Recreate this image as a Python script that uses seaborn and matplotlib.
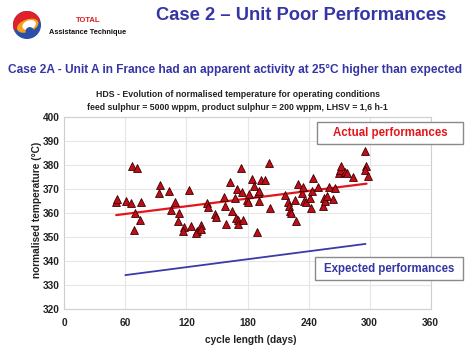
import matplotlib
matplotlib.use("Agg")
import matplotlib.pyplot as plt
import seaborn as sns
import pandas as pd
from matplotlib.patches import Wedge, Circle, Ellipse, Rectangle

# ---------------- data ----------------
cycle_days = [51, 52, 61, 66, 67, 71.5, 69, 75, 74, 68,
              94, 93, 103, 109, 105, 113, 112, 118, 116.5, 123,
              124, 130, 129, 134, 134.5, 140, 141, 148, 149, 157,
              158, 159, 162.5, 165, 168, 168.5, 170, 171, 171, 174,
              175, 176, 179.3, 181, 180.2, 184.5, 186, 189, 190, 191,
              191.5, 193, 197, 201, 202, 217, 219.5, 221, 222, 223,
              227, 228, 229.5, 234, 235, 236, 237.5, 241, 242, 243,
              244, 249, 254, 255, 256, 258, 260.5, 264, 265.5, 270,
              271, 271.5, 276, 277.5, 284, 295.5, 296.5, 295.5, 298]
norm_temp = [364.3, 365.8, 364.8, 363.9, 379.6, 378.5, 360.0, 364.4, 356.8, 352.8,
             371.5, 368.2, 368.9, 364.6, 361.3, 359.7, 356.4, 353.9, 352.4, 369.3,
             354.4, 352.4, 351.7, 354.9, 353.1, 363.9, 362.5, 359.3, 358.3, 366.7,
             362.6, 355.3, 372.9, 360.5, 366.0, 357.9, 369.9, 357.0, 355.3, 378.5,
             368.6, 357.0, 365.3, 367.8, 364.3, 374.2, 371.0, 352.1, 368.4, 369.0,
             365.0, 373.6, 373.5, 380.6, 361.8, 367.4, 364.6, 362.9, 360.8, 360.0,
             365.3, 356.5, 371.8, 368.1, 370.8, 364.9, 364.3, 366.0, 361.8, 369.0,
             374.6, 370.8, 362.9, 366.0, 364.9, 367.0, 370.5, 365.7, 370.2, 376.4,
             377.8, 379.5, 377.1, 376.4, 375.0, 385.8, 379.5, 377.8, 375.3]

actual_trend_x = [51, 297]
actual_trend_y = [359.0, 372.1]
expected_x = [60, 296]
expected_y = [334.0, 347.0]

x_ticks = [0, 60, 120, 180, 240, 300, 360]
y_ticks = [320, 330, 340, 350, 360, 370, 380, 390, 400]

points = pd.DataFrame({"cycle": cycle_days, "temp": norm_temp})
actual = pd.DataFrame({"cycle": actual_trend_x, "temp": actual_trend_y})
expected = pd.DataFrame({"cycle": expected_x, "temp": expected_y})

# ---------------- style ----------------
sns.set_theme(style="white")
plt.rcParams["font.family"] = ["Liberation Sans", "DejaVu Sans"]

W, H = 474, 355
fig = plt.figure(figsize=(W / 100, H / 100), dpi=100)
ax = fig.add_axes([64.3 / W, 1 - 308.7 / H, (430.7 - 64.3) / W, (308.7 - 116.7) / H])

grid_c = "#e6e6e6"
for v in y_ticks:
    ax.axhline(v, color=grid_c, lw=0.8, zorder=0)
for v in x_ticks:
    ax.axvline(v, color=grid_c, lw=0.8, zorder=0)

sns.lineplot(data=actual, x="cycle", y="temp", ax=ax, color="#e3161b", lw=1.6, zorder=3)
sns.lineplot(data=expected, x="cycle", y="temp", ax=ax, color="#3a3aa8", lw=1.3, zorder=3)
sns.scatterplot(data=points, x="cycle", y="temp", ax=ax, marker="^", s=32,
                color="#c00d18", edgecolor="#3a0000", linewidth=0.6, zorder=4)

ax.set_xlim(0, 360)
ax.set_ylim(320, 400)
ax.set_xticks(x_ticks)
ax.set_yticks(y_ticks)
ax.tick_params(axis="x", length=0, pad=7, labelsize=7.3, colors="#222222")
ax.tick_params(axis="y", length=0, pad=3, labelsize=7.3, colors="#222222")
for lab in ax.get_xticklabels() + ax.get_yticklabels():
    lab.set_fontweight("bold")
for sp in ax.spines.values():
    sp.set_color("#cfcfcf")
    sp.set_linewidth(0.8)

ax.set_xlabel("cycle length (days)", fontsize=7.3, fontweight="bold", color="#222222")
ax.set_ylabel("normalised temperature (°C)", fontsize=7.3, fontweight="bold", color="#222222")
ax.xaxis.set_label_coords((251 - 64.3) / 366.4, -(340 - 308.7) / 192, transform=ax.transAxes)
ax.yaxis.set_label_coords((37 - 64.3) / 366.4, (308.7 - 210) / 192, transform=ax.transAxes)
ax.xaxis.label.set_va("center")
ax.yaxis.label.set_va("center")

# ---------------- texts ----------------
def fx(px):
    return px / W

def fy(py):
    return 1 - py / H

fig.text(fx(301.5), fy(15), "Case 2 \u2013 Unit Poor Performances", ha="center", va="center",
         fontsize=13.2, fontweight="bold", color="#3535a5")
fig.text(fx(234.5), fy(70), "Case 2A - Unit A in France had an apparent activity at 25°C higher than expected",
         ha="center", va="center", fontsize=8.6, fontweight="bold", color="#3535a5")
fig.text(fx(237.5), fy(94.3), "HDS - Evolution of normalised temperature for operating conditions",
         ha="center", va="center", fontsize=6.35, fontweight="bold", color="#222222")
fig.text(fx(237.5), fy(107.7), "feed sulphur = 5000 wppm, product sulphur = 200 wppm, LHSV = 1,6 h-1",
         ha="center", va="center", fontsize=6.35, fontweight="bold", color="#222222")

# annotation boxes
for (x0, y0, x1, y1, txt, col) in [(316.7, 121.7, 463.3, 144.0, "Actual performances", "#e3161b"),
                                   (315.3, 257.3, 462.7, 280.0, "Expected performances", "#3535a5")]:
    fig.patches.append(Rectangle((fx(x0), fy(y1)), (x1 - x0) / W, (y1 - y0) / H,
                                 transform=fig.transFigure, fc="white", ec="#8a8a8a", lw=1.0, zorder=5))
    fig.text(fx((x0 + x1) / 2), fy((y0 + y1) / 2), txt, ha="center", va="center",
             fontsize=8.3, fontweight="bold", color=col, zorder=6)

# logo
fig.text(fx(88), fy(21), "TOTAL", ha="center", va="center", fontsize=5.5, fontweight="bold", color="#d42020")
fig.text(fx(88), fy(32), "Assistance Technique", ha="center", va="center", fontsize=5.3,
         fontweight="bold", color="#111111")
lax = fig.add_axes([fx(13), fy(40), 28 / W, 30 / H])
lax.set_xlim(-1, 1)
lax.set_ylim(-1.07, 1.07)
lax.set_aspect("equal")
lax.axis("off")
lax.add_patch(Circle((0, 0), 0.95, color="#2a4fa8"))
lax.add_patch(Wedge((0, 0), 0.95, 20, 200, color="#e0202a"))
lax.add_patch(Ellipse((0.05, -0.05), 1.5, 0.8, angle=20, color="#f2a01e"))
lax.add_patch(Ellipse((0.15, 0.0), 0.9, 0.55, angle=20, color="white"))
lax.add_patch(Ellipse((0.2, -0.45), 0.5, 0.5, color="#2a4fa8"))

fig.savefig("out.png", dpi=100)
